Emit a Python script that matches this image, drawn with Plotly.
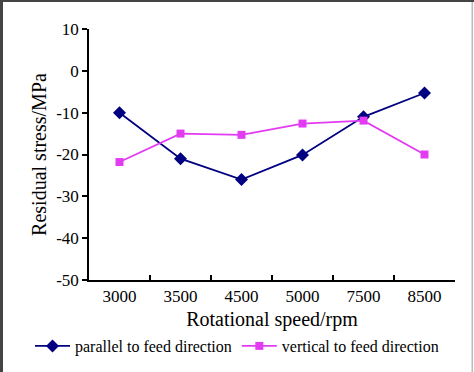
import plotly.graph_objects as go

categories = ["3000", "3500", "4500", "5000", "7500", "8500"]
parallel = [-10.0, -21.0, -26.0, -20.1, -11.0, -5.3]
vertical = [-21.8, -15.0, -15.3, -12.6, -11.9, -20.0]
y_ticks = [10, 0, -10, -20, -30, -40, -50]
y_tick_text = ["10", "0", "-10", "-20", "-30", "-40", "-50"]

serif = "Liberation Serif, Times New Roman, serif"
font = dict(family=serif, size=17, color="black")

fig = go.Figure()
fig.add_trace(go.Scatter(
    x=categories, y=parallel, mode="lines+markers", name="parallel to feed direction",
    line=dict(color="#000080", width=1.8),
    marker=dict(symbol="diamond", size=10, color="#000080"),
))
fig.add_trace(go.Scatter(
    x=categories, y=vertical, mode="lines+markers", name="vertical to feed direction",
    line=dict(color="#e23cf2", width=1.8),
    marker=dict(symbol="square", size=8, color="#e23cf2"),
))

W, H, L, R, T, B = 474, 372, 89, 19, 29, 92
pw, ph = W - L - R, H - T - B

fig.update_layout(
    width=W, height=H,
    margin=dict(l=L, r=R, t=T, b=B, autoexpand=False),
    paper_bgcolor="white", plot_bgcolor="white",
    font=font,
    showlegend=True,
    legend=dict(orientation="h", xref="paper", yref="paper",
                x=(30 - L) / pw, xanchor="left", y=-(346 - T - ph) / ph, yanchor="middle",
                font=dict(family=serif, size=16),
                itemwidth=35, tracegroupgap=0),
    xaxis=dict(
        type="category", showline=True, linecolor="black", linewidth=1.5,
        ticks="inside", ticklen=5, tickwidth=1.5, tickcolor="black", tickson="boundaries",
        showgrid=False, zeroline=False, automargin=False,
        ticklabelstandoff=0,
        title=dict(text="Rotational speed/rpm", standoff=7),
        range=[-0.5, 5.5],
    ),
    yaxis=dict(
        range=[-50, 10], tickvals=y_ticks, ticktext=y_tick_text,
        showline=True, linecolor="black", linewidth=1.5,
        ticks="outside", ticklen=5, tickwidth=1.5, tickcolor="black",
        showgrid=False, zeroline=False, automargin=False,
        title=dict(text="Residual stress/MPa", standoff=4),
    ),
    shapes=[
        dict(type="rect", xref="paper", yref="paper", x0=-L / pw, x1=(3 - L) / pw, y0=-B / ph, y1=(ph + T) / ph,
             fillcolor="#444444", line=dict(width=0), layer="above"),
        dict(type="rect", xref="paper", yref="paper", x0=-L / pw, x1=(pw + R) / pw, y0=(ph + T - 2) / ph, y1=(ph + T) / ph,
             fillcolor="#444444", line=dict(width=0), layer="above"),
        dict(type="rect", xref="paper", yref="paper", x0=(pw + R - 2.5) / pw, x1=(pw + R - 1) / pw, y0=-B / ph, y1=(ph + T - 2) / ph,
             fillcolor="#bbbbbb", line=dict(width=0), layer="above"),
    ],
)

fig.write_html("out.html", config={"displayModeBar": False},
               post_script="document.body.style.margin='0';")
